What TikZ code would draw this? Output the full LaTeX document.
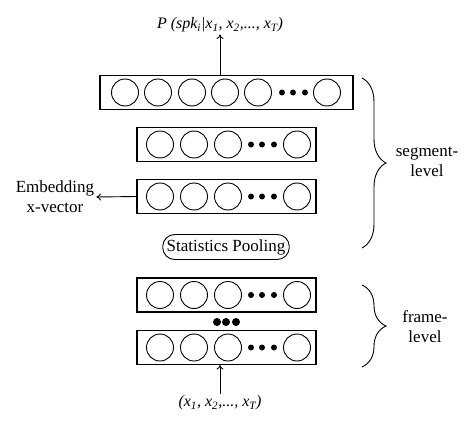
\documentclass[tikz,border=0pt]{standalone}
\usepackage{fontspec}
\setmainfont{Liberation Serif}
\usetikzlibrary{
  arrows.meta,
  decorations.pathreplacing
}
\tikzset{
  % For layer boxes.
  layer/.style={
    draw,
    line width=1.1pt,
    minimum height=34pt,
    inner sep=0pt},
%
  % For neurons inside a layer.
  neuron/.style={
    circle,
    draw,
    line width=0.9pt,
    minimum size=27pt,
    inner sep=0pt},
%
  % For the small black dots.
  dot/.style={
    circle,
    fill,
    minimum size=6pt,
    inner sep=0pt},
%
  % For thin arrows.
  arrow/.style={
    line width=0.9pt,
    -{To[length=4.5pt,width=7pt]}},
%
  % For curly braces.
  bracket/.style={
    decorate,
    decoration={brace, amplitude=24pt},
    line width=0.9pt},
%
  % For texts.
  description/.style={
    font=\fontsize{17}{20}\selectfont,
    align=center,
    inner sep=2pt},
%
  % For the italic formulas.
  formula/.style={
    font=\fontsize{16}{19}\selectfont\itshape,
    inner sep=2pt}
}

\begin{document}
\begin{tikzpicture}[x=1pt, y=-1pt]
  \useasboundingbox (0,0) rectangle (474,428);

  % Output layer.
  \node[layer, minimum width=253pt] (out) at (226.5,92.5) {};
  \foreach \x [count=\i] in {125,158,192,225,258,327}
    \node[neuron] (out-\i) at (\x,92.5) {};
  \foreach \x [count=\i] in {282,293,305}
    \node[dot] (out-d\i) at (\x,92.5) {};

  % Smaller layers.
  \foreach \name/\y in {seg/144.5, emb/196.5, frmtop/295, frmbot/347.5}
    {\node[layer, minimum width=179pt] (\name) at (226.5,\y) {};
     \foreach \x [count=\i] in {160,194,228,297}
       \node[neuron] (\name-\i) at (\x,\y) {};
     \foreach \x [count=\i] in {251,262,274}
       \node[dot] (\name-d\i) at (\x,\y) {};}

  % Dots between the frame layers.
  \foreach \x [count=\i] in {217,226,236}
    \node[dot, minimum size=8pt] (gap-\i) at (\x,322) {};

  \node[description, draw, line width=0.9pt, rounded corners=12pt,
        minimum width=125pt, minimum height=25pt, inner xsep=4pt] (pool)
    at (226,247) {Statistics Pooling};

  % Labels.
  \node[formula] (prob) at (220,25)
    {P (spk\textsubscript{i}|x\textsubscript{1}, x\textsubscript{2},..., x\textsubscript{T})};
  \node[description] (xvec) at (55,197) {Embedding\\x-vector};
  \node[formula] (input) at (220,403)
    {(x\textsubscript{1}, x\textsubscript{2},..., x\textsubscript{T})};
  \node[description] (seglabel) at (427,162) {segment-\\level};
  \node[description] (frmlabel) at (425,327) {frame-\\level};

  \draw[arrow] (out.north -| prob) -- (prob.south);
  \draw[arrow] (emb.west) -- (xvec.east);
  \draw[arrow] (input.north) -- (input.north |- frmbot.south);

  % Braces.
  \coordinate (segtop) at (362,78);
  \coordinate (segbot) at (362,248);
  \coordinate (frmtopend) at (362,285);
  \coordinate (frmbotend) at (362,367);
  \draw[bracket] (segtop) -- (segbot);
  \draw[bracket] (frmtopend) -- (frmbotend);
\end{tikzpicture}
\end{document}
